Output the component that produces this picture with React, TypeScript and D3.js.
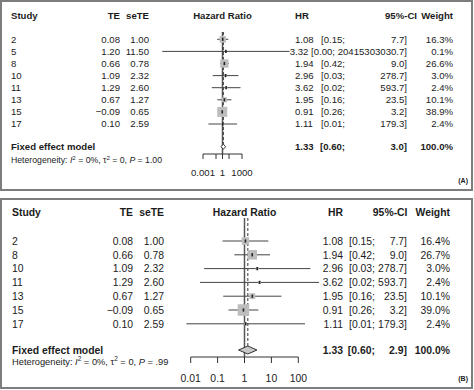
import React from "react";
import * as d3 from "d3";

// panel A (all 8 studies)
const studiesA = ["2", "5", "8", "10", "11", "13", "15", "17"];
const teA = [0.08, 1.2, 0.66, 1.09, 1.29, 0.67, -0.09, 0.1];
const seA = [1.0, 11.5, 0.78, 2.32, 2.6, 1.27, 0.65, 2.59];
const hrA = ["1.08", "3.32", "1.94", "2.96", "3.62", "1.95", "0.91", "1.11"];
const lowA = ["[0.15;", "[0.00;", "[0.42;", "[0.03;", "[0.02;", "[0.16;", "[0.26;", "[0.01;"];
const upA = ["7.7]", "20415303030.7]", "9.0]", "278.7]", "593.7]", "23.5]", "3.2]", "179.3]"];
const weightA = [16.3, 0.1, 26.6, 3.0, 2.4, 10.1, 38.9, 2.4];
const fixedA = { hr: 1.33, lo: 0.6, hi: 3.0, hrLabel: "1.33", loLabel: "[0.60;", hiLabel: "3.0]", p: "1.00" };
const ticksA = [0.001, 0.1, 1, 10, 1000];
const tickLabelsA = ["0.001", "1", "1000"];

// panel B (study 5 removed)
const studiesB = ["2", "8", "10", "11", "13", "15", "17"];
const teB = [0.08, 0.66, 1.09, 1.29, 0.67, -0.09, 0.1];
const seB = [1.0, 0.78, 2.32, 2.6, 1.27, 0.65, 2.59];
const hrB = ["1.08", "1.94", "2.96", "3.62", "1.95", "0.91", "1.11"];
const lowB = ["[0.15;", "[0.42;", "[0.03;", "[0.02;", "[0.16;", "[0.26;", "[0.01;"];
const upB = ["7.7]", "9.0]", "278.7]", "593.7]", "23.5]", "3.2]", "179.3]"];
const weightB = [16.4, 26.7, 3.0, 2.4, 10.1, 39.0, 2.4];
const fixedB = { hr: 1.33, lo: 0.6, hi: 2.9, hrLabel: "1.33", loLabel: "[0.60;", hiLabel: "2.9]", p: ".99" };
const ticksB = [0.01, 0.1, 1, 10, 100];
const tickLabelsB = ["0.01", "0.1", "1", "10", "100"];

const font = "'Liberation Sans', Arial, sans-serif";
const ink = "#1c1c1c";

type PanelProps = {
  tag: string;
  studies: string[];
  te: number[];
  se: number[];
  hr: string[];
  low: string[];
  up: string[];
  weight: number[];
  fixed: typeof fixedA;
  ticks: number[];
  tickLabels: string[];
  box: [number, number, number, number];
  fs: number;
  hetFs: number;
  col: { study: number; te: number; se: number; hrX: number; hrAnchor: "start" | "end"; low: number; up: number; w: number; ciHead: number };
  rows: [number, number]; // first row centre, step
  headY: number;
  fixedY: number;
  hetY: number;
  domain: [number, number];
  range: [number, number];
  axisY: number;
  tickLen: number;
  labelY: number;
  refTop: number;
  sqMax: number;
  diaH: number;
  diaFill: string;
  tagY: number;
};

const Panel = (p: PanelProps) => {
  const x = d3.scaleLog().domain(p.domain).range(p.range);
  const y = d3.scaleLinear().domain([0, 1]).range([p.rows[0], p.rows[0] + p.rows[1]]);
  const base = (c: number, s = p.fs) => c + s * 0.36;
  const maxW = d3.max(p.weight) as number;
  const side = d3.scaleSqrt().domain([0, maxW]).range([0, p.sqMax]);
  const hrCenter = (x(p.domain[0]) + x(p.domain[1])) / 2;
  const xFixed = x(p.fixed.hr);
  const [bx, by, bw, bh] = p.box;

  const txt = (props: any, children: React.ReactNode, bold = false) => (
    <text fontFamily={font} fontSize={p.fs} fill={ink} fontWeight={bold ? "bold" : "normal"} {...props}>
      {children}
    </text>
  );

  return (
    <g>
      <rect x={bx} y={by} width={bw} height={bh} fill="#fff" stroke="#7d7d7d" strokeWidth={2} />
      {/* headers */}
      {txt({ x: p.col.study, y: base(p.headY) }, "Study", true)}
      {txt({ x: p.col.te, y: base(p.headY), textAnchor: "end" }, "TE", true)}
      {txt({ x: p.col.se, y: base(p.headY), textAnchor: "end" }, "seTE", true)}
      {txt({ x: hrCenter, y: base(p.headY), textAnchor: "middle" }, "Hazard Ratio", true)}
      {txt({ x: p.col.hrX, y: base(p.headY), textAnchor: p.col.hrAnchor }, "HR", true)}
      {txt({ x: p.col.ciHead, y: base(p.headY), textAnchor: "end" }, "95%-CI", true)}
      {txt({ x: p.col.w, y: base(p.headY), textAnchor: "end" }, "Weight", true)}

      {/* reference line at 1 and fixed-effect dashed line */}
      <line x1={x(1)} x2={x(1)} y1={p.refTop} y2={p.axisY} stroke="#555" strokeWidth={1.5} />
      <line x1={xFixed} x2={xFixed} y1={p.refTop} y2={p.fixedY - p.diaH} stroke="#333" strokeWidth={1} strokeDasharray="3,2" />

      {p.studies.map((s, i) => {
        const cy = y(i);
        const lo = Math.exp(p.te[i] - 1.96 * p.se[i]);
        const hi = Math.exp(p.te[i] + 1.96 * p.se[i]);
        const est = Math.exp(p.te[i]);
        const sz = side(p.weight[i]);
        const long = p.up[i].length > 8;
        return (
          <g key={s}>
            {txt({ x: p.col.study, y: base(cy) }, s)}
            {txt({ x: p.col.te, y: base(cy), textAnchor: "end" }, p.te[i] < 0 ? `\u2212${Math.abs(p.te[i]).toFixed(2)}` : p.te[i].toFixed(2))}
            {txt({ x: p.col.se, y: base(cy), textAnchor: "end" }, p.se[i].toFixed(2))}
            <line x1={x(lo)} x2={x(hi)} y1={cy} y2={cy} stroke="#444" strokeWidth={1} />
            <rect x={x(est) - sz / 2} y={cy - sz / 2} width={sz} height={sz} fill="#bdbdbd" />
            <rect x={x(est) - 0.8} y={cy - 1.6} width={1.6} height={3.2} fill="#222" />
            {long ? (
              txt({ x: p.col.up, y: base(cy), textAnchor: "end" }, `${p.hr[i]} ${p.low[i]} ${p.up[i]}`)
            ) : (
              <>
                {txt({ x: p.col.hrX, y: base(cy), textAnchor: p.col.hrAnchor }, p.hr[i])}
                {txt({ x: p.col.low, y: base(cy), textAnchor: "end" }, p.low[i])}
                {txt({ x: p.col.up, y: base(cy), textAnchor: "end" }, p.up[i])}
              </>
            )}
            {txt({ x: p.col.w, y: base(cy), textAnchor: "end" }, `${p.weight[i].toFixed(1)}%`)}
          </g>
        );
      })}

      {/* fixed effect model */}
      {txt({ x: p.col.study, y: base(p.fixedY) }, "Fixed effect model", true)}
      <polygon
        points={[
          [x(p.fixed.lo), p.fixedY],
          [xFixed, p.fixedY - p.diaH],
          [x(p.fixed.hi), p.fixedY],
          [xFixed, p.fixedY + p.diaH],
        ].map((d) => d.join(",")).join(" ")}
        fill={p.diaFill}
        stroke="#333"
        strokeWidth={1}
      />
      {txt({ x: p.col.hrX, y: base(p.fixedY), textAnchor: p.col.hrAnchor }, p.fixed.hrLabel, true)}
      {txt({ x: p.col.low, y: base(p.fixedY), textAnchor: "end" }, p.fixed.loLabel, true)}
      {txt({ x: p.col.up, y: base(p.fixedY), textAnchor: "end" }, p.fixed.hiLabel, true)}
      {txt({ x: p.col.w, y: base(p.fixedY), textAnchor: "end" }, "100.0%", true)}

      <text x={p.col.study} y={base(p.hetY, p.hetFs)} fontFamily={font} fontSize={p.hetFs} fill={ink}>
        Heterogeneity: <tspan fontStyle="italic">I</tspan>
        <tspan dy={-p.hetFs * 0.4} fontSize={p.hetFs * 0.7}>2</tspan>
        <tspan dy={p.hetFs * 0.4}> = 0%, τ</tspan>
        <tspan dy={-p.hetFs * 0.4} fontSize={p.hetFs * 0.7}>2</tspan>
        <tspan dy={p.hetFs * 0.4}> = 0, </tspan>
        <tspan fontStyle="italic">P</tspan> = {p.fixed.p}
      </text>

      {/* axis */}
      <line x1={x(p.domain[0])} x2={x(p.domain[1])} y1={p.axisY} y2={p.axisY} stroke="#333" strokeWidth={1} />
      {p.ticks.map((t) => (
        <line key={t} x1={x(t)} x2={x(t)} y1={p.axisY} y2={p.axisY + p.tickLen} stroke="#333" strokeWidth={1} />
      ))}
      {p.tickLabels.map((l) => (
        <text key={l} x={x(+l)} y={base(p.labelY)} textAnchor="middle" fontFamily={font} fontSize={p.fs} fill={ink}>
          {l}
        </text>
      ))}
      <text x={468} y={p.tagY} textAnchor="end" fontFamily={font} fontSize={7} fontWeight="bold" fill={ink}>
        {p.tag}
      </text>
    </g>
  );
};

export default function App() {
  return (
    <svg width={474} height={390} style={{ position: "absolute", left: 0, top: 0, background: "#fff" }}>
      <Panel
        tag="(A)"
        studies={studiesA}
        te={teA}
        se={seA}
        hr={hrA}
        low={lowA}
        up={upA}
        weight={weightA}
        fixed={fixedA}
        ticks={ticksA}
        tickLabels={tickLabelsA}
        box={[1, 1, 471, 189]}
        fs={9.6}
        hetFs={8.7}
        col={{ study: 11, te: 120, se: 149, hrX: 295, hrAnchor: "start", low: 345, up: 407, w: 453, ciHead: 417 }}
        rows={[39.3, 12.1]}
        headY={15.7}
        fixedY={146.7}
        hetY={160}
        domain={[0.001, 1000]}
        range={[203, 242]}
        axisY={154}
        tickLen={5}
        labelY={173}
        refTop={32}
        sqMax={10}
        diaH={2.6}
        diaFill="#fff"
        tagY={183}
      />
      <Panel
        tag="(B)"
        studies={studiesB}
        te={teB}
        se={seB}
        hr={hrB}
        low={lowB}
        up={upB}
        weight={weightB}
        fixed={fixedB}
        ticks={ticksB}
        tickLabels={tickLabelsB}
        box={[1, 199, 471, 189]}
        fs={10.4}
        hetFs={9.3}
        col={{ study: 12, te: 133, se: 164, hrX: 343, hrAnchor: "end", low: 375, up: 407, w: 450, ciHead: 407.5 }}
        rows={[241, 13.8]}
        headY={212}
        fixedY={350}
        hetY={361.5}
        domain={[0.01, 100]}
        range={[190.7, 298.3]}
        axisY={357}
        tickLen={6}
        labelY={378}
        refTop={218}
        sqMax={11.5}
        diaH={4}
        diaFill="#c8c8c8"
        tagY={381}
      />
    </svg>
  );
}
